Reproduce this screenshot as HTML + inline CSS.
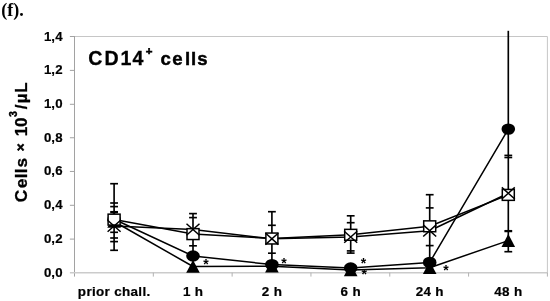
<!DOCTYPE html>
<html lang="en"><head><meta charset="utf-8"><title>CD14+ cells</title>
<style>html,body{margin:0;padding:0;background:#fff;}svg{display:block;}text{font-family:"Liberation Sans",Arial,sans-serif;font-weight:bold;fill:#000;}.ser{font-family:"Liberation Serif","Times New Roman",serif;}</style></head><body>
<svg width="550" height="301" viewBox="0 0 550 301">
<rect x="0" y="0" width="550" height="301" fill="#fff"/>
<g stroke="#c6c6c6" stroke-width="1" fill="none">
<path d="M74.5 36.5 H547.4 V272.65"/>
</g>
<g stroke="#a2a2a2" stroke-width="1" fill="none">
<path d="M74.5 36.0 V276.6"/>
<path d="M69.9 272.7 H547.9" stroke="#cbcbcb" stroke-width="1.6"/>
<path d="M69.9 239.10 H74.5"/>
<path d="M69.9 205.30 H74.5"/>
<path d="M69.9 171.45 H74.5"/>
<path d="M69.9 137.75 H74.5"/>
<path d="M69.9 104.30 H74.5"/>
<path d="M69.9 70.40 H74.5"/>
<path d="M69.9 36.50 H74.5"/>
<path d="M153.32 272.65 V276.6" stroke="#b2b2b2"/>
<path d="M232.13 272.65 V276.6" stroke="#b2b2b2"/>
<path d="M310.95 272.65 V276.6" stroke="#b2b2b2"/>
<path d="M389.77 272.65 V276.6" stroke="#b2b2b2"/>
<path d="M468.58 272.65 V276.6" stroke="#b2b2b2"/>
<path d="M547.40 272.65 V276.6" stroke="#b2b2b2"/>
</g>
<text class="ser" x="1.3" y="15.8" font-size="18" >(f).</text>
<text y="64.5" font-size="19.6" stroke="#000" stroke-width="0.3"><tspan x="88.20 104.59 120.47 132.51" y="64.5">CD14</tspan><tspan x="145.82" y="54.6" font-size="11.5" stroke-width="0.6">+</tspan> <tspan x="160.47 172.37 185.10 190.90 197.35" y="64.8" font-size="18.6" stroke-width="0.45">cells</tspan></text>
<text transform="translate(62.60 276.65) scale(1.017 1)" font-size="13" letter-spacing="0.1" text-anchor="end" stroke="#000" stroke-width="0.2">0,0</text>
<text transform="translate(62.60 243.10) scale(1.017 1)" font-size="13" letter-spacing="0.1" text-anchor="end" stroke="#000" stroke-width="0.2">0,2</text>
<text transform="translate(62.60 209.30) scale(1.017 1)" font-size="13" letter-spacing="0.1" text-anchor="end" stroke="#000" stroke-width="0.2">0,4</text>
<text transform="translate(62.60 175.45) scale(1.017 1)" font-size="13" letter-spacing="0.1" text-anchor="end" stroke="#000" stroke-width="0.2">0,6</text>
<text transform="translate(62.60 141.75) scale(1.017 1)" font-size="13" letter-spacing="0.1" text-anchor="end" stroke="#000" stroke-width="0.2">0,8</text>
<text transform="translate(62.60 108.30) scale(1.017 1)" font-size="13" letter-spacing="0.1" text-anchor="end" stroke="#000" stroke-width="0.2">1,0</text>
<text transform="translate(62.60 74.40) scale(1.017 1)" font-size="13" letter-spacing="0.1" text-anchor="end" stroke="#000" stroke-width="0.2">1,2</text>
<text transform="translate(62.60 40.50) scale(1.017 1)" font-size="13" letter-spacing="0.1" text-anchor="end" stroke="#000" stroke-width="0.2">1,4</text>
<text transform="translate(114.20 295.80) scale(1.12 1)" font-size="12" letter-spacing="0.3" text-anchor="middle" stroke="#000" stroke-width="0.2">prior chall.</text>
<text transform="translate(193.10 295.80) scale(1.12 1)" font-size="12" letter-spacing="0.3" text-anchor="middle" stroke="#000" stroke-width="0.2">1 h</text>
<text transform="translate(272.00 295.80) scale(1.12 1)" font-size="12" letter-spacing="0.3" text-anchor="middle" stroke="#000" stroke-width="0.2">2 h</text>
<text transform="translate(350.80 295.80) scale(1.12 1)" font-size="12" letter-spacing="0.3" text-anchor="middle" stroke="#000" stroke-width="0.2">6 h</text>
<text transform="translate(429.80 295.80) scale(1.12 1)" font-size="12" letter-spacing="0.3" text-anchor="middle" stroke="#000" stroke-width="0.2">24 h</text>
<text transform="translate(508.40 295.80) scale(1.12 1)" font-size="12" letter-spacing="0.3" text-anchor="middle" stroke="#000" stroke-width="0.2">48 h</text>
<text transform="translate(27.3 0) rotate(-90)" font-size="17" stroke="#000" stroke-width="0.3"><tspan x="-202.21 -188.17 -178.21 -173.31 -167.61" y="0" font-size="17.3">Cells</tspan> <tspan x="-151.26" y="-2" font-size="13.4" stroke-width="0.6">×</tspan> <tspan x="-136.29 -126.88" y="0">10</tspan><tspan x="-117.04" y="-10.2" font-size="10.6" stroke-width="0.4">3</tspan><tspan x="-109.27 -103.31 -92.84" y="0">/µL</tspan></text>
<text x="206.0" y="268.6" font-size="14" text-anchor="middle">*</text>
<text x="284.0" y="267.6" font-size="14" text-anchor="middle">*</text>
<text x="363.6" y="267.6" font-size="14" text-anchor="middle">*</text>
<text x="364.3" y="278.5" font-size="14" text-anchor="middle">*</text>
<text x="445.9" y="274.5" font-size="14" text-anchor="middle">*</text>
<g stroke="#000" stroke-width="1.65" fill="none">
<path d="M114.1 183.7 V250.3"/>
<path d="M110.2 183.7 H118.0"/>
<path d="M110.2 203.0 H118.0"/>
<path d="M110.2 206.6 H118.0"/>
<path d="M110.2 232.3 H118.0"/>
<path d="M110.2 238.0 H118.0"/>
<path d="M110.2 241.6 H118.0"/>
<path d="M110.2 250.3 H118.0"/>
<path d="M110.2 212.1 H118.0" stroke-width="2.3"/>
<path d="M193.0 213.6 V256.0"/>
<path d="M189.1 213.6 H196.9"/>
<path d="M189.1 217.6 H196.9"/>
<path d="M189.1 245.8 H196.9"/>
<path d="M271.9 211.7 V264.0"/>
<path d="M268.0 211.7 H275.8"/>
<path d="M268.0 225.3 H275.8"/>
<path d="M268.0 253.2 H275.8"/>
<path d="M350.7 215.8 V253.1"/>
<path d="M346.8 215.8 H354.6"/>
<path d="M346.8 222.7 H354.6"/>
<path d="M346.8 250.9 H354.6"/>
<path d="M346.8 253.1 H354.6"/>
<path d="M429.7 194.7 V262.0"/>
<path d="M425.8 194.7 H433.6"/>
<path d="M425.8 207.9 H433.6"/>
<path d="M425.8 245.6 H433.6"/>
<path d="M508.3 30.8 V251.7"/>
<path d="M504.4 155.4 H512.2"/>
<path d="M504.4 157.5 H512.2"/>
<path d="M504.4 251.7 H512.2"/>
<path d="M504.4 231.1 H512.2" stroke-width="2.3"/>
</g>
<g stroke="#000" stroke-width="1.5" fill="none" stroke-linejoin="round">
<polyline points="114.1,221.5 193.0,266.5 271.9,266.2 350.7,270.0 429.7,267.7 508.3,240.6"/>
<polyline points="114.1,219.2 193.0,256.0 271.9,264.6 350.7,268.0 429.7,262.4 508.3,129.1"/>
<polyline points="114.1,219.6 193.0,234.1 271.9,238.5 350.7,234.8 429.7,226.3 508.3,194.9"/>
<polyline points="114.1,226.0 193.0,229.5 271.9,238.8 350.7,237.0 429.7,230.7 508.3,193.2"/>
</g>
<g fill="#000" stroke="none">
<path d="M114.1 215.0 L120.9 227.8 H107.3 Z"/>
<path d="M193.0 260.0 L199.8 272.8 H186.2 Z"/>
<path d="M271.9 259.7 L278.7 272.5 H265.1 Z"/>
<path d="M350.7 263.5 L357.5 276.3 H343.9 Z"/>
<path d="M429.7 261.2 L436.5 274.0 H422.9 Z"/>
<path d="M508.3 234.1 L515.1 246.9 H501.5 Z"/>
<ellipse cx="114.1" cy="219.2" rx="6.8" ry="5.7"/>
<ellipse cx="193.0" cy="256.0" rx="6.8" ry="5.7"/>
<ellipse cx="271.9" cy="264.6" rx="6.8" ry="5.7"/>
<ellipse cx="350.7" cy="268.0" rx="6.8" ry="5.7"/>
<ellipse cx="429.7" cy="262.4" rx="6.8" ry="5.7"/>
<ellipse cx="508.3" cy="129.1" rx="6.8" ry="5.7"/>
</g>
<g fill="#fff" stroke="#000" stroke-width="1.5">
<rect x="108.1" y="214.15" width="12" height="10.9"/>
<rect x="187.0" y="228.65" width="12" height="10.9"/>
<rect x="265.9" y="233.05" width="12" height="10.9"/>
<rect x="344.7" y="229.35" width="12" height="10.9"/>
<rect x="423.7" y="220.85" width="12" height="10.9"/>
<rect x="502.3" y="189.45" width="12" height="10.9"/>
</g>
<g fill="none" stroke="#000" stroke-width="1.5">
<path d="M107.6 220.2 L120.6 231.8 M120.6 220.2 L107.6 231.8"/>
<path d="M186.5 223.7 L199.5 235.3 M199.5 223.7 L186.5 235.3"/>
<path d="M265.4 233.0 L278.4 244.6 M278.4 233.0 L265.4 244.6"/>
<path d="M344.2 231.2 L357.2 242.8 M357.2 231.2 L344.2 242.8"/>
<path d="M423.2 224.9 L436.2 236.5 M436.2 224.9 L423.2 236.5"/>
<path d="M501.8 187.4 L514.8 199.0 M514.8 187.4 L501.8 199.0"/>
</g>
</svg></body></html>
